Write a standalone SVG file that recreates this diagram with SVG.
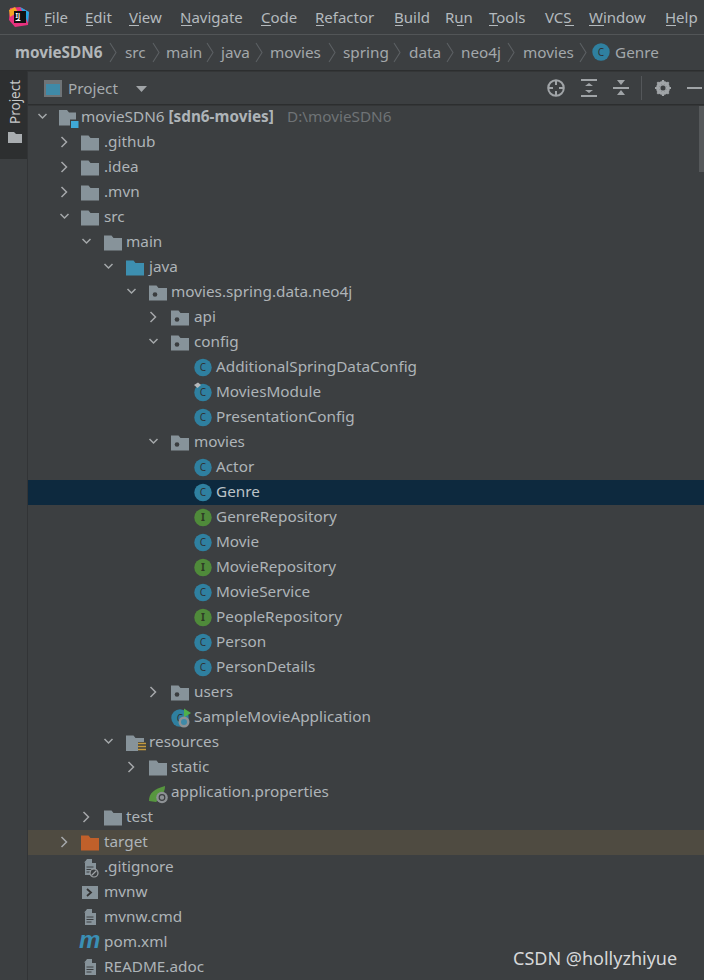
<svg xmlns="http://www.w3.org/2000/svg" xmlns:xlink="http://www.w3.org/1999/xlink" width="704" height="980" viewBox="0 0 704 980">
<style>
text{font-family:"Noto Sans","Liberation Sans",sans-serif;font-size:15.3px;fill:#aeb4b8}
.m{fill:#b4babe;font-size:15px}
.b{fill:#a3a8ab;font-size:15.3px}
.chev{fill:none;stroke:#a5a8aa;stroke-width:1.4}
.sep{fill:none;stroke:#5c6063;stroke-width:1.1}
.ul{stroke:#b4babe;stroke-width:1}
.ln{stroke:#2c2e2f;stroke-width:1.2}
.cl{fill:#2f3234;font-size:10px;font-weight:400;text-anchor:middle}
.ig{fill:#2e3a26;font-size:10px;font-weight:700;text-anchor:middle}
.tb{fill:none;stroke:#a0a4a7;stroke-width:2}
</style>
<defs>
<path id="folder" d="M0-7.5h7.5l2 2.5h8.5v12.5h-18z" fill="#87939a"/>
<g id="pkg"><path d="M0-7.5h7.5l2 2.5h8.5v12.5h-18z" fill="#87939a"/><circle cx="6" cy="1.5" r="2.3" fill="#3a3d3f"/></g>
<path id="open" d="M-3.5-4l4 4 4-4" fill="none" stroke="#a5a8aa" stroke-width="1.5" transform="translate(0,1)"/>
<path id="closed" d="M-2.5-5l5 5-5 5" fill="none" stroke="#a5a8aa" stroke-width="1.5"/>
<g id="cc"><circle r="8.7" fill="#2f80a0"/><text class="cl" y="3.7">C</text></g>
<g id="ii"><circle r="8.7" fill="#4f8a3a"/><text class="ig" y="3.7">I</text></g>
<g id="doc"><path d="M-3-8h5v4h4v12h-11v-12z" fill="#87939a"/><path d="M-2.5-8l-3.5 3.5h3.500z" fill="#87939a"/><path d="M-3.500 0h7M-3.500 2.500h7M-3.500 5h5" stroke="#3c3f41" stroke-width="1"/></g>
</defs>

<rect width="704" height="980" fill="#3c3f41"/>

<g id="menubar">
<rect x="0" y="0" width="704" height="34" fill="#3c3f41"/>
<line x1="0" y1="34.500" x2="704" y2="34.500" stroke="#525557"/>
<g id="logo"><path d="M10 8l10-1 9 5-1 13-13 2-6-7z" fill="#e8327e"/><path d="M20 7l9 5-1 11-4-9z" fill="#23a6e0"/><path d="M9 10l6-3 3 5-8 5z" fill="#f5a623"/><rect x="14" y="11" width="12" height="12" fill="#111"/><text x="15.500" y="18" style="font-size:6.500px;fill:#fff;font-weight:700">IJ</text><rect x="15.500" y="20" width="5" height="1" fill="#fff"/></g>
<text class="m" x="44" y="23">File</text><line class="ul" x1="45" x2="52" y1="25.500" y2="25.500"/>
<text class="m" x="85" y="23">Edit</text><line class="ul" x1="86" x2="93" y1="25.500" y2="25.500"/>
<text class="m" x="129" y="23">View</text><line class="ul" x1="129" x2="139" y1="25.500" y2="25.500"/>
<text class="m" x="180" y="23">Navigate</text><line class="ul" x1="181" x2="192" y1="25.500" y2="25.500"/>
<text class="m" x="261" y="23">Code</text><line class="ul" x1="261" x2="271" y1="25.500" y2="25.500"/>
<text class="m" x="315" y="23">Refactor</text><line class="ul" x1="316" x2="324" y1="25.500" y2="25.500"/>
<text class="m" x="394" y="23">Build</text><line class="ul" x1="395" x2="403" y1="25.500" y2="25.500"/>
<text class="m" x="445" y="23">Run</text><line class="ul" x1="457" x2="464" y1="25.500" y2="25.500"/>
<text class="m" x="489" y="23">Tools</text><line class="ul" x1="489" x2="498" y1="25.500" y2="25.500"/>
<text class="m" x="545" y="23">VCS</text><line class="ul" x1="565" x2="574" y1="25.500" y2="25.500"/>
<text class="m" x="589" y="23">Window</text><line class="ul" x1="589" x2="604" y1="25.500" y2="25.500"/>
<text class="m" x="665" y="23">Help</text><line class="ul" x1="666" x2="676" y1="25.500" y2="25.500"/>
</g>

<g id="breadcrumb">
<text x="15" y="58" style="font-weight:700;font-size:15.300px;fill:#b3b7ba">movieSDN6</text>
<path class="sep" d="M110 43l6 9.500-6 9.500M153 43l6 9.500-6 9.500M207 43l6 9.500-6 9.500M256 43l6 9.500-6 9.500M329 43l6 9.500-6 9.500M394 43l6 9.500-6 9.500M447 43l6 9.500-6 9.500M508 43l6 9.500-6 9.500M580 43l6 9.500-6 9.500"/>
<text class="b" x="125" y="58">src</text>
<text class="b" x="166" y="58">main</text>
<text class="b" x="221" y="58">java</text>
<text class="b" x="270" y="58">movies</text>
<text class="b" x="343" y="58">spring</text>
<text class="b" x="409" y="58">data</text>
<text class="b" x="461" y="58">neo4j</text>
<text class="b" x="523" y="58">movies</text>
<use href="#cc" x="601" y="52"/>
<text class="b" x="615" y="58">Genre</text>
<rect x="0" y="70" width="704" height="1.500" fill="#2c2e2f"/>
</g>

<g id="sidebar">
<rect x="0" y="71" width="27" height="909" fill="#3c3f41"/>
<rect x="0" y="71" width="27" height="88" fill="#2d2f30"/>
<rect x="27" y="71" width="1" height="909" fill="#323436"/>
<text transform="translate(20,124) rotate(-90)" style="font-size:13.500px;fill:#c6c8c9">Project</text>
<path d="M8 132h6l2 2h6v9h-14z" fill="#a9adb0"/>
</g>

<g id="toolbar">
<rect x="44" y="80" width="18" height="17" fill="#6f7477"/><rect x="46" y="84" width="14" height="11" fill="#3f8aa8"/>
<text x="68" y="94" style="font-size:15.300px;fill:#a6abae">Project</text>
<path d="M136 86h11l-5.500 6z" fill="#a0a4a7"/>
<g id="locate"><circle class="tb" cx="556" cy="88" r="7.800"/><path class="tb" d="M556 80v5M556 91v5M548 88h5M559 88h5"/></g>
<g id="expand" fill="#a0a4a7"><rect x="581" y="79" width="16" height="2"/><rect x="581" y="95" width="16" height="2"/><path d="M589 83l4 3h-8zM589 93l-4-3h8z"/></g>
<g id="collapse" fill="#a0a4a7"><rect x="613" y="87" width="16" height="2"/><path d="M621 85l-4-5h8zM621 90l4 5h-8z"/></g>
<rect x="641" y="76" width="1" height="24" fill="#54575a"/>
<g id="gear"><circle cx="663" cy="88" r="5.200" fill="none" stroke="#a0a4a7" stroke-width="3.500"/><path d="M663 80v16M655 88h16M657.300 82.300l11.400 11.400M668.700 82.300l-11.400 11.400" stroke="#a0a4a7" stroke-width="2.200"/><circle cx="663" cy="88" r="2.500" fill="#3c3f41"/></g>
<rect x="687" y="87" width="15" height="2" fill="#a0a4a7"/>
<rect x="28" y="104" width="676" height="1.500" fill="#2c2e2f"/>
</g>

<rect id="scrollbar" x="699" y="106" width="5" height="66" fill="#55585a"/>
<rect id="row-genre" x="28" y="480" width="676" height="25" fill="#0d293e"/>
<rect id="row-target" x="28" y="830" width="676" height="25" fill="#4f4b41"/>

<g id="tree">
<g id="n-root"><use href="#open" x="42" y="117"/><path d="M59 110h8l2 2.500h7v7h-6v6h-11z" fill="#87939a"/><rect x="71" y="121" width="7.500" height="7" fill="#3fa9d8"/><text x="81" y="122">movieSDN6 <tspan style="font-weight:700">[sdn6-movies]</tspan></text><text x="287" y="122" style="fill:#6f7376;font-size:15.300px">D:\movieSDN6</text></g>
<g id="n-github"><use href="#closed" x="64" y="142"/><use href="#folder" x="81" y="143"/><text x="104" y="147">.github</text></g>
<g id="n-idea"><use href="#closed" x="64" y="167"/><use href="#folder" x="81" y="168"/><text x="104" y="172">.idea</text></g>
<g id="n-mvn"><use href="#closed" x="64" y="192"/><use href="#folder" x="81" y="193"/><text x="104" y="197">.mvn</text></g>
<g id="n-src"><use href="#open" x="64" y="217"/><use href="#folder" x="81" y="218"/><text x="104" y="222">src</text></g>
<g id="n-main"><use href="#open" x="86" y="242"/><use href="#folder" x="104" y="243"/><text x="126" y="247">main</text></g>
<g id="n-java"><use href="#open" x="108" y="267"/><path d="M126 260.500h7.500l2 2.500h8.500v12.500h-18z" fill="#3d8fb0"/><text x="149" y="272">java</text></g>
<g id="n-pkg"><use href="#open" x="131" y="292"/><use href="#pkg" x="149" y="293"/><text x="171" y="297">movies.spring.data.neo4j</text></g>
<g id="n-api"><use href="#closed" x="153" y="317"/><use href="#pkg" x="171" y="318"/><text x="194" y="322">api</text></g>
<g id="n-config"><use href="#open" x="153" y="342"/><use href="#pkg" x="171" y="343"/><text x="194" y="347">config</text></g>
<g id="n-addl"><use href="#cc" x="203" y="367.500"/><text x="216" y="372">AdditionalSpringDataConfig</text></g>
<g id="n-module"><use href="#cc" x="203" y="392.500"/><path d="M194 385l4-2.500 3 2.500-3.500 3z" fill="#b5b8ba"/><text x="216" y="397">MoviesModule</text></g>
<g id="n-pres"><use href="#cc" x="203" y="417.500"/><text x="216" y="422">PresentationConfig</text></g>
<g id="n-movies"><use href="#open" x="153" y="442"/><use href="#pkg" x="171" y="443"/><text x="194" y="447">movies</text></g>
<g id="n-actor"><use href="#cc" x="203" y="467.500"/><text x="216" y="472">Actor</text></g>
<g id="n-genre"><use href="#cc" x="203" y="492.500"/><text x="216" y="497" style="fill:#bcc3c7">Genre</text></g>
<g id="n-genrerepo"><use href="#ii" x="203" y="517.500"/><text x="216" y="522">GenreRepository</text></g>
<g id="n-movie"><use href="#cc" x="203" y="542.500"/><text x="216" y="547">Movie</text></g>
<g id="n-movierepo"><use href="#ii" x="203" y="567.500"/><text x="216" y="572">MovieRepository</text></g>
<g id="n-movieservice"><use href="#cc" x="203" y="592.500"/><text x="216" y="597">MovieService</text></g>
<g id="n-peoplerepo"><use href="#ii" x="203" y="617.500"/><text x="216" y="622">PeopleRepository</text></g>
<g id="n-person"><use href="#cc" x="203" y="642.500"/><text x="216" y="647">Person</text></g>
<g id="n-persondetails"><use href="#cc" x="203" y="667.500"/><text x="216" y="672">PersonDetails</text></g>
<g id="n-users"><use href="#closed" x="153" y="692"/><use href="#pkg" x="171" y="693"/><text x="194" y="697">users</text></g>
<g id="n-sample"><circle cx="180" cy="718" r="8.700" fill="#2f80a0"/><text class="cl" x="180" y="721.700">C</text><path d="M184 708.500l7 4.500-7 4.500z" fill="#4fb04a"/><circle cx="184" cy="722" r="5.500" fill="#8d9194"/><circle cx="184" cy="722" r="3" fill="#3f8aa8"/><text x="194" y="722">SampleMovieApplication</text></g>
<g id="n-resources"><use href="#open" x="108" y="742"/><path d="M126 735.500h7.500l2 2.500h8.500v4h-6v9h-12z" fill="#87939a"/><path d="M138 743.500h8M138 746.500h8M138 749.500h8" stroke="#c69a3e" stroke-width="1.600"/><text x="149" y="747">resources</text></g>
<g id="n-static"><use href="#closed" x="131" y="767"/><use href="#folder" x="149" y="768"/><text x="171" y="772">static</text></g>
<g id="n-props"><path d="M149 801c0-8 5-12 16-15 0 5-2 7-3 10l-6 6z" fill="#57963f"/><circle cx="162" cy="797.500" r="5.800" fill="#8d9194"/><circle cx="162" cy="797.500" r="2.800" fill="none" stroke="#3c3f41" stroke-width="1.200"/><text x="171" y="797">application.properties</text></g>
<g id="n-test"><use href="#closed" x="86" y="817"/><use href="#folder" x="104" y="818"/><text x="126" y="822">test</text></g>
<g id="n-target"><use href="#closed" x="64" y="842"/><path d="M81 835.500h7.500l2 2.500h8.500v12.500h-18z" fill="#c0602a"/><text x="104" y="847">target</text></g>
<g id="n-gitignore"><use href="#doc" x="90" y="867"/><circle cx="94" cy="873" r="4" fill="#3c3f41" stroke="#a0a4a7" stroke-width="1.200"/><path d="M91.500 875.500l5-5" stroke="#a0a4a7" stroke-width="1.200"/><text x="104" y="872">.gitignore</text></g>
<g id="n-mvnw"><rect x="82" y="886" width="16" height="13" fill="#87939a"/><path d="M87 889l4 3.500-4 3.500" fill="none" stroke="#333" stroke-width="1.800"/><text x="104" y="897">mvnw</text></g>
<g id="n-mvnwcmd"><use href="#doc" x="90" y="917"/><text x="104" y="922">mvnw.cmd</text></g>
<g id="n-pom"><text x="79" y="948" style="font-family:'Liberation Sans',sans-serif;font-size:24px;font-weight:700;font-style:italic;fill:#3a8fb5">m</text><text x="104" y="947">pom.xml</text></g>
<g id="n-readme"><use href="#doc" x="90" y="967"/><text x="104" y="972">README.adoc</text></g>
</g>

<text id="watermark" x="513" y="965" style="font-size:18px;fill:#d6d8d9">CSDN @hollyzhiyue</text>
</svg>
